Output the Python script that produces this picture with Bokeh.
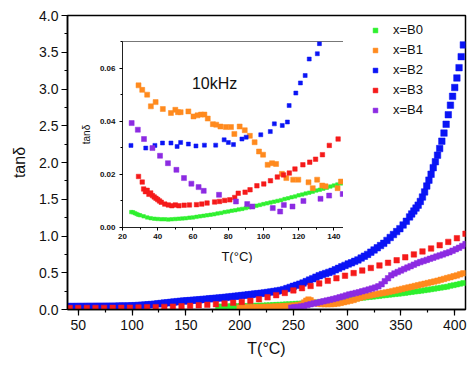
from bokeh.plotting import figure
from bokeh.models import (Range1d, FixedTicker, Legend, LegendItem, Label,
                          GridBox, NumeralTickFormatter)
from bokeh.embed import file_html
from bokeh.resources import INLINE

FONT = "Liberation Sans"

# ---------------- main plot data (T in °C, tan delta) ----------------
B0_T = [180, 183, 186, 189, 192, 195, 198, 201, 204, 207, 210, 213, 216, 219, 222, 225, 228,
        231, 234, 237, 240, 243, 246, 249, 252, 255, 258, 261, 264, 267, 270, 273, 276, 279,
        282, 285, 288, 291, 294, 297, 300, 303, 306, 309, 312, 315, 318, 321, 324, 327, 330,
        333, 336, 339, 342, 345, 348, 351, 354, 357, 360, 363, 366, 369, 372, 375, 378, 381,
        384, 387, 390, 393, 396, 399, 402, 405, 408]
B0_V = [.040, .041, .042, .043, .044, .045, .046, .047, .048, .049, .050, .051, .053, .054, .056,
        .057, .059, .061, .063, .065, .067, .070, .072, .075, .077, .080, .083, .086, .089, .092,
        .095, .098, .101, .105, .109, .113, .117, .121, .125, .130, .135, .140, .145, .150, .155,
        .160, .165, .170, .175, .180, .185, .190, .195, .200, .205, .210, .215, .220, .226, .232,
        .238, .244, .250, .256, .262, .268, .275, .282, .290, .297, .304, .311, .322, .331, .340,
        .350, .360]

B1_T = [200, 203, 206, 209, 212, 215, 218, 221, 224, 227, 230, 233, 236, 239, 242, 245, 248,
        251, 254, 257, 260, 262, 264, 266, 268, 270, 273, 276, 279, 282, 285, 288, 291, 294,
        297, 300, 303, 306, 309, 312, 315, 318, 321, 324, 327, 330, 333, 336, 339, 342, 345,
        348, 351, 354, 357, 360, 363, 366, 369, 372, 375, 378, 381, 384, 387, 390, 393, 396,
        399, 402, 405, 408]
B1_V = [.025, .026, .027, .028, .030, .031, .032, .034, .035, .037, .038, .040, .042, .044, .046,
        .049, .052, .055, .060, .068, .095, .120, .135, .125, .100, .085, .078, .074, .072, .072,
        .073, .076, .080, .090, .100, .110, .120, .130, .145, .160, .172, .182, .192, .200, .208,
        .216, .224, .232, .240, .250, .260, .270, .280, .290, .300, .310, .320, .330, .340, .350,
        .360, .370, .380, .392, .404, .416, .428, .440, .452, .464, .478, .492]

B2_T = [40, 43, 46, 49, 52, 55, 58, 61, 64, 67, 70, 73, 76, 79, 82, 85, 88, 91, 94, 97, 100,
        103, 106, 109, 112, 115, 118, 121, 124, 127, 130, 133, 136, 139, 142, 145, 148, 151,
        154, 157, 160, 163, 166, 169, 172, 175, 178, 181, 184, 187, 190, 193, 196, 199, 202,
        205, 208, 211, 214, 217, 220, 223, 226, 229, 232, 235, 238, 241, 244, 247, 250, 253,
        256, 259, 262, 265, 268, 271, 274, 277, 280, 283, 286, 289, 292, 295, 298, 301, 304,
        307, 310, 313, 316, 319, 322, 325, 328, 331, 334, 337, 340, 343, 346, 349, 352, 355,
        358, 360, 362, 364, 366, 368, 370, 372, 374, 376, 378, 380, 382, 384, 386, 388, 390,
        392, 394, 396, 398, 400, 402, 404, 406, 408]
B2_V = [.040, .040, .040, .041, .041, .041, .042, .042, .042, .043, .043, .043, .044, .044, .045,
        .045, .046, .046, .047, .048, .050, .052, .055, .058, .061, .064, .068, .072, .077, .082,
        .087, .092, .097, .102, .107, .111, .115, .119, .122, .126, .129, .133, .137, .141, .145,
        .149, .153, .157, .161, .165, .170, .175, .180, .185, .190, .195, .200, .205, .210, .215,
        .220, .226, .232, .238, .245, .252, .260, .270, .285, .300, .315, .330, .345, .360, .380,
        .400, .420, .440, .460, .475, .490, .505, .520, .540, .560, .580, .600, .620, .635, .655,
        .675, .700, .725, .750, .780, .810, .840, .870, .900, .940, .980, 1.02, 1.06, 1.10, 1.15,
        1.20, 1.26, 1.30, 1.34, 1.38, 1.42, 1.47, 1.53, 1.60, 1.68, 1.76, 1.84, 1.93, 2.01, 2.10,
        2.19, 2.29, 2.40, 2.52, 2.65, 2.78, 2.90, 3.02, 3.15, 3.29, 3.44, 3.60]

B3_T = [42, 50, 58, 66, 74, 82, 90, 98, 106, 114, 122, 130, 138, 146, 154, 162, 170, 178, 186,
        194, 202, 210, 218, 226, 234, 242, 250, 258, 266, 274, 282, 290, 298, 306, 314, 322,
        330, 338, 346, 354, 362, 370, 378, 386, 394, 402, 410]
B3_V = [.020, .020, .021, .021, .022, .023, .024, .025, .027, .029, .032, .035, .039, .044, .050,
        .057, .064, .072, .081, .091, .103, .118, .140, .165, .195, .225, .260, .290, .320, .355,
        .390, .425, .460, .495, .530, .565, .600, .635, .670, .710, .750, .790, .830, .875, .920,
        .970, 1.03]

B4_T = [248, 251, 254, 257, 260, 263, 266, 269, 272, 275, 278, 281, 284, 287, 290, 293, 296,
        299, 302, 305, 308, 311, 314, 317, 320, 323, 326, 329, 332, 335, 338, 341, 344, 347,
        350, 353, 356, 359, 362, 365, 368, 371, 374, 377, 380, 383, 386, 389, 392, 395, 398,
        401, 404, 407, 410]
B4_V = [.025, .030, .035, .040, .048, .060, .072, .082, .092, .102, .112, .122, .132, .142, .152,
        .165, .178, .192, .205, .215, .225, .235, .248, .260, .272, .285, .298, .315, .345, .385,
        .425, .465, .490, .510, .530, .550, .570, .590, .610, .630, .645, .660, .675, .690, .705,
        .720, .735, .750, .765, .780, .800, .820, .840, .865, .890]

# ---------------- inset data (10 kHz, 20-150 °C) ----------------
I0_T = [25, 26, 27, 28, 29, 30, 32, 34, 36, 38, 40, 42, 44, 46, 48, 50, 52, 54, 56, 58, 60, 62,
        64, 66, 68, 70, 72, 74, 76, 78, 80, 82, 84, 86, 88, 90, 92, 94, 96, 98, 100, 102, 104,
        106, 108, 110, 112, 114, 116, 118, 120, 122, 124, 126, 128, 130, 132, 134, 136, 138,
        140, 142, 144, 146, 148, 150]
I0_V = [.0058, .0057, .0054, .0051, .0048, .0046, .0042, .0038, .0035, .0033, .0032, .0031,
        .0031, .0030, .0031, .0032, .0033, .0034, .0035, .0037, .0038, .0040, .0042, .0044,
        .0046, .0048, .0050, .0053, .0055, .0058, .0060, .0063, .0065, .0068, .0070, .0073,
        .0076, .0079, .0082, .0085, .0088, .0091, .0094, .0097, .0100, .0103, .0107, .0110,
        .0114, .0117, .0121, .0124, .0128, .0131, .0135, .0139, .0142, .0146, .0150, .0154,
        .0158, .0162, .0166, .0170, .0174, .0178]

I1_T = [29.1, 31.2, 34.0, 36.1, 38.8, 42.9, 47.5, 50.0, 51.5, 53.0, 57.4, 60.3, 62.6, 64.6, 66.5,
        68.4, 71.3, 73.2, 75.6, 78.7, 81.6, 83.5, 86.5, 89.4, 92.3, 95.0, 97.5, 99.8, 102.4,
        104.9, 107.2, 110.5, 113.0, 116.9, 119.8, 125.6, 128.0, 130.5, 133.4, 135.3, 142.1,
        144.0, 147.9, 149.3]
I1_V = [.0535, .0518, .0500, .0456, .0472, .0446, .0431, .0443, .0434, .0434, .0437, .0418,
        .0422, .0425, .0425, .0410, .0389, .0387, .0380, .0378, .0378, .0352, .0380, .0366,
        .0345, .0321, .0286, .0274, .0236, .0242, .0239, .0202, .0186, .0180, .0180, .0170,
        .0148, .0180, .0158, .0155, .0148, .0173, .0173, .0198]

I2_T = [24.8, 33.2, 38.4, 42.7, 47.5, 51.0, 53.0, 57.4, 61.7, 66.5, 72.9, 77.7, 80.1, 83.0,
        87.8, 90.2, 98.5, 103.9, 106.2, 110.7, 113.6, 114.6, 118.4, 121.0, 123.7, 126.0,
        130.6, 131.8]
I2_V = [.0309, .0299, .0309, .0318, .0318, .0305, .0320, .0314, .0307, .0310, .0310, .0330,
        .0320, .0312, .0333, .0340, .0349, .0361, .0390, .0384, .0397, .0459, .0506, .0544,
        .0572, .0634, .0654, .0692]

I3_T = [29.1, 31.2, 32.0, 33.0, 34.0, 35.0, 36.0, 37.0, 38.0, 39.0, 40.0, 41.0, 42.0, 44.0,
        46.0, 48.0, 50.0, 52.0, 55.0, 58.0, 62.0, 65.0, 68.0, 72.3, 75.1, 78.0, 80.9, 83.7,
        85.7, 89.6, 92.4, 96.3, 100.2, 104.0, 107.9, 111.4, 114.7, 117.9, 122.4, 126.3,
        129.6, 133.5, 137.4, 142.4, 147.6]
I3_V = [.0192, .0171, .0145, .0135, .0140, .0125, .0130, .0120, .0115, .0110, .0105, .0100,
        .0095, .0088, .0085, .0082, .0085, .0082, .0084, .0085, .0086, .0088, .0092, .0096,
        .0098, .0102, .0104, .0113, .0129, .0133, .0142, .0157, .0164, .0176, .0190, .0198,
        .0205, .0220, .0236, .0246, .0257, .0274, .0309, .0333, .0353]

I4_T = [25.2, 28.7, 32.2, 37.0, 41.3, 45.8, 50.6, 54.9, 59.1, 63.2, 66.1, 74.8, 84.4, 90.8,
        93.7, 105.3, 109.5, 111.6, 116.5, 122.7, 132.4, 137.3, 145.0]
I4_V = [.0393, .0368, .0333, .0299, .0270, .0242, .0217, .0186, .0165, .0152, .0138, .0123,
        .0098, .0088, .0079, .0073, .0060, .0085, .0079, .0100, .0108, .0120, .0126]

LABELS = ["x=B0", "x=B1", "x=B2", "x=B3", "x=B4"]
COLORS = ["#2ef02e", "#ff8a1e", "#0a14f5", "#f51a1a", "#8c2be2"]

X_TICKS = [50, 100, 150, 200, 250, 300, 350, 400]
Y_TICKS = [0.0, 0.5, 1.0, 1.5, 2.0, 2.5, 3.0, 3.5, 4.0]
IX_TICKS = [20, 40, 60, 80, 100, 120, 140]
IY_TICKS = [0.00, 0.02, 0.04, 0.06]


def minors(ticks, lo, hi):
    step = ticks[1] - ticks[0]
    out = []
    t = ticks[0] - step / 2
    while t <= hi:
        if t >= lo:
            out.append(t)
        t += step / 2
    return out


# ---------------- main figure ----------------
p = figure(frame_width=398, frame_height=294, x_range=Range1d(40, 410), y_range=Range1d(0, 4.0),
           output_backend="svg", toolbar_location=None,
           min_border_left=58, min_border_right=2, min_border_top=7, min_border_bottom=51)
p.grid.visible = False
p.outline_line_color = "black"
p.outline_line_width = 1.5
p.background_fill_color = "white"

for ax in (p.xaxis[0], p.yaxis[0]):
    ax.axis_line_width = 1.5
    ax.axis_line_color = "black"
    ax.major_tick_in = 0
    ax.major_tick_out = 6
    ax.minor_tick_in = 0
    ax.minor_tick_out = 3
    ax.major_tick_line_width = 1.2
    ax.minor_tick_line_width = 1.2
    ax.major_label_text_font = FONT
    ax.major_label_text_font_size = "14px"
    ax.major_label_text_color = "#111111"
    ax.axis_label_text_font = FONT
    ax.axis_label_text_font_size = "16px"
    ax.axis_label_text_font_style = "normal"
    ax.axis_label_text_color = "#111111"

p.xaxis.ticker = FixedTicker(ticks=X_TICKS, minor_ticks=minors(X_TICKS, 40, 410))
p.yaxis.ticker = FixedTicker(ticks=Y_TICKS, minor_ticks=minors(Y_TICKS, 0, 4.0))
p.yaxis.formatter = NumeralTickFormatter(format="0.0")
p.xaxis.axis_label = "T(°C)"
p.yaxis.axis_label = "tanδ"
p.xaxis.major_label_standoff = 4
p.yaxis.major_label_standoff = 3
p.xaxis.axis_label_standoff = 7
p.yaxis.axis_label_standoff = 8

main_series = [(B0_T, B0_V, 5), (B1_T, B1_V, 5.5), (B2_T, B2_V, 6.5), (B3_T, B3_V, 5.5),
               (B4_T, B4_V, 5.5)]
renderers = []
for (t, v, s), c in zip(main_series, COLORS):
    r = p.scatter(t, v, marker="square", size=s, fill_color=c, line_color=c, line_width=0.5)
    renderers.append(r)

legend = Legend(items=[LegendItem(label=l, renderers=[r]) for l, r in zip(LABELS, renderers)],
                location=(302, 192), orientation="vertical",
                glyph_width=12, glyph_height=12, label_height=12, spacing=5,
                padding=0, margin=0, label_standoff=12,
                border_line_alpha=0, background_fill_alpha=0,
                label_text_font=FONT, label_text_font_size="13px",
                label_text_color="#111111")
p.add_layout(legend)

# ---------------- inset figure ----------------
ins = figure(frame_width=229, frame_height=186, x_range=Range1d(20, 150), y_range=Range1d(0, 0.07),
             output_backend="svg", toolbar_location=None,
             min_border_left=47, min_border_right=4, min_border_top=4, min_border_bottom=36)
ins.grid.visible = False
ins.outline_line_color = "#777777"
ins.outline_line_width = 1
ins.background_fill_color = "white"
ins.border_fill_color = None

for ax in (ins.xaxis[0], ins.yaxis[0]):
    ax.axis_line_width = 1
    ax.axis_line_color = "#222222"
    ax.major_tick_in = 0
    ax.major_tick_out = 3
    ax.minor_tick_in = 0
    ax.minor_tick_out = 2
    ax.major_label_text_font = FONT
    ax.major_label_text_font_size = "8px"
    ax.major_label_text_font_style = "bold"
    ax.major_label_text_color = "#111111"
    ax.axis_label_text_font = FONT
    ax.axis_label_text_font_style = "normal"
    ax.axis_label_text_color = "#111111"

ins.xaxis.ticker = FixedTicker(ticks=IX_TICKS, minor_ticks=minors(IX_TICKS, 20, 150))
ins.yaxis.ticker = FixedTicker(ticks=IY_TICKS, minor_ticks=minors(IY_TICKS, 0, 0.07))
ins.yaxis.formatter = NumeralTickFormatter(format="0.00")
ins.xaxis.axis_label = "T(°C)"
ins.yaxis.axis_label = "tanδ"
ins.xaxis.axis_label_text_font_size = "13px"
ins.yaxis.axis_label_text_font_size = "10px"
ins.xaxis.major_label_standoff = 3
ins.yaxis.major_label_standoff = 4
ins.xaxis.axis_label_standoff = 7
ins.yaxis.axis_label_standoff = 5

inset_series = [(I0_T, I0_V, 3.5), (I1_T, I1_V, 5), (I2_T, I2_V, 4), (I3_T, I3_V, 4.5),
                (I4_T, I4_V, 5)]
for (t, v, s), c in zip(inset_series, COLORS):
    ins.scatter(t, v, marker="square", size=s, fill_color=c, line_color=c, line_width=0.5)

ins.add_layout(Label(x=59.4, y=0.0542, text="10kHz", text_font=FONT, text_font_size="16px",
                     text_baseline="middle", text_align="left", text_color="#111111"))

ins.margin = (26, 0, 0, 55)

grid = GridBox(children=[(p, 0, 0), (ins, 0, 0)])
grid.margin = (8, 0, 0, 8)

open("out.html", "w").write(file_html(grid, INLINE))
